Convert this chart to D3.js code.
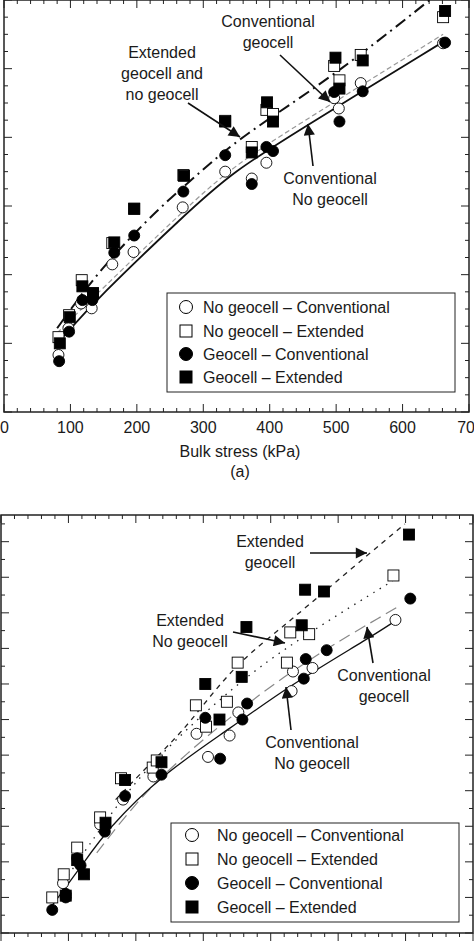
<!DOCTYPE html>
<html><head><meta charset="utf-8">
<script src="https://d3js.org/d3.v7.min.js"></script>
<style>body{margin:0;background:#fff}text{font-family:"Liberation Sans",Arial,sans-serif;fill:#1a1a1a}</style>
</head><body><svg id="c" width="474" height="944"></svg>
<script>
// ---------- Panel (a) data ----------
const xTicksA = [0,100,200,300,400,500,600,700];
const xTickLabelsA = ["0","100","200","300","400","500","600","70"];
const aNoGeoConvX = [82,97,116,132,163,195,269,333,373,395,497,504,537,661];
const aNoGeoConvY = [0.83,1.22,1.58,1.51,2.15,2.33,2.98,3.50,3.40,3.63,4.57,4.42,4.79,5.37];
const aGeoConvX = [83,98,118,133,166,196,270,333,373,395,405,497,505,540,664];
const aGeoConvY = [0.74,1.17,1.63,1.63,2.32,2.57,3.21,3.74,3.32,3.86,3.80,4.66,4.23,4.67,5.38];
const aNoGeoExtX = [82,98,117,134,163,196,270,333,373,395,405,497,505,537,661];
const aNoGeoExtY = [1.09,1.41,1.92,1.73,2.46,2.96,3.45,4.24,3.86,4.40,4.34,5.04,4.83,5.20,5.75];
const aGeoExtX = [84,99,118,134,166,196,271,333,373,396,405,499,505,540,664];
const aGeoExtY = [1.00,1.38,1.83,1.73,2.47,2.96,3.44,4.23,3.78,4.51,4.23,5.16,4.71,5.12,5.84];
const aCurveSolid = [[85,1.05],[143,1.68],[270,2.85],[344,3.5],[457,4.18],[661,5.39]];
const aCurveGray  = [[80,1.15],[143,1.75],[270,2.93],[344,3.58],[457,4.27],[661,5.5]];
const aCurveExt   = [[80,1.22],[143,2.07],[234,2.98],[294,3.48],[355,4.0],[495,4.88],[641,6.0]];

// ---------- Panel (b) data ----------
const bNoGeoConvX = [92,114,147,181,226,290,307,339,352,431,433,462,585];
const bNoGeoConvY = [2.8,4.0,6.1,7.5,8.8,11.2,9.9,11.1,12.4,13.6,14.7,14.9,17.6];
const bGeoConvX = [76,96,96,113,118,154,184,238,303,325,358,365,449,452,483,607];
const bGeoConvY = [1.3,2.0,2.2,4.2,3.8,5.7,7.7,8.9,12.1,9.8,12.0,12.9,14.3,15.4,15.9,18.8];
const bNoGeoExtX = [76,93,113,147,178,225,231,289,304,335,351,424,429,457,582];
const bNoGeoExtY = [2.0,3.3,4.8,6.5,8.7,9.3,9.7,12.8,11.6,13.0,15.2,15.2,16.9,16.8,20.1];
const bGeoExtX = [96,113,123,155,184,238,303,324,357,364,446,451,479,605];
const bGeoExtY = [2.1,4.1,3.3,6.2,8.6,9.6,14.0,12.0,14.4,17.2,17.3,19.3,19.2,22.4];
const bCurveSolid = [[73,1.4],[122,3.9],[157,5.8],[238,8.9],[344,11.6],[423,13.8],[551,16.7],[587,17.6]];
const bCurveGray  = [[142,4.5],[197,7.2],[261,9.7],[419,14.6],[587,18.3]];
const bCurveDot   = [[81,2.2],[128,4.8],[187,8.0],[256,10.8],[344,13.8],[423,16.1],[581,19.8]];
const bCurveDash  = [[170,7.5],[236,10.1],[276,11.6],[344,15.0],[418,17.2],[492,19.6],[599,23.0]];

const legendLabels = ["No geocell – Conventional","No geocell – Extended","Geocell – Conventional","Geocell – Extended"];

const svg = d3.select("#c");
const defs = svg.append("defs");
defs.append("marker").attr("id","ah").attr("viewBox","0 0 10 10").attr("refX",10).attr("refY",5)
  .attr("markerWidth",9).attr("markerHeight",7).attr("orient","auto").attr("markerUnits","strokeWidth")
  .append("path").attr("d","M0,0L10,5L0,10Z").attr("fill","#111");

function panel(cfg){
  const g = svg.append("g");
  const x = d3.scaleLinear().domain([0,700]).range(cfg.xr);
  const y = d3.scaleLinear().domain(cfg.yd).range(cfg.yr);
  const [x0,x1]=cfg.xr, [yb,yt]=cfg.yr;
  const cid = "clip"+cfg.id;
  defs.append("clipPath").attr("id",cid).append("rect").attr("x",x0).attr("y",yt).attr("width",x1-x0).attr("height",yb-yt);
  const xt = d3.range(0,701,20);
  xt.forEach(v=>{
    const L = v%100===0?8:4;
    g.append("line").attr("x1",x(v)).attr("x2",x(v)).attr("y1",yt).attr("y2",yt+L).attr("stroke","#222");
    if(cfg.bottomOut) g.append("line").attr("x1",x(v)).attr("x2",x(v)).attr("y1",yb).attr("y2",yb+L).attr("stroke","#222");
    else g.append("line").attr("x1",x(v)).attr("x2",x(v)).attr("y1",yb).attr("y2",yb-L).attr("stroke","#222");
  });
  cfg.yticks.forEach((v,i)=>{
    const L = i%cfg.yMajEvery===0?8:4;
    g.append("line").attr("x1",x0).attr("x2",x0+L).attr("y1",y(v)).attr("y2",y(v)).attr("stroke","#222");
    g.append("line").attr("x1",x1).attr("x2",x1-L).attr("y1",y(v)).attr("y2",y(v)).attr("stroke","#222");
  });
  g.append("rect").attr("x",x0).attr("y",yt).attr("width",x1-x0).attr("height",yb-yt)
    .attr("fill","none").attr("stroke","#222").attr("stroke-width",1.5);
  const line = d3.line().x(d=>x(d[0])).y(d=>y(d[1])).curve(d3.curveBasis);
  const cg = g.append("g").attr("clip-path",`url(#${cid})`);
  cfg.curves.forEach(c=>{
    cg.append("path").attr("d",line(c.pts)).attr("fill","none").attr("stroke",c.color)
      .attr("stroke-width",c.w).attr("stroke-dasharray",c.dash||null);
  });
  const r=cfg.ms;
  function sym(xs,ys,type){
    xs.forEach((xv,i)=>{
      const px=x(xv), py=y(ys[i]);
      if(type==="oc"||type==="fc") g.append("circle").attr("cx",px).attr("cy",py).attr("r",r)
        .attr("fill",type==="fc"?"#000":"#fff").attr("stroke","#000").attr("stroke-width",0.9);
      else g.append("rect").attr("x",px-r).attr("y",py-r).attr("width",2*r).attr("height",2*r)
        .attr("fill",type==="fs"?"#000":"#fff").attr("stroke","#000").attr("stroke-width",0.9);
    });
  }
  sym(cfg.d[0][0],cfg.d[0][1],"oc");
  sym(cfg.d[1][0],cfg.d[1][1],"os");
  sym(cfg.d[2][0],cfg.d[2][1],"fs");
  sym(cfg.d[3][0],cfg.d[3][1],"fc");
  cfg.notes.forEach(n=>{
    n.lines.forEach((t,i)=>g.append("text").attr("x",n.tx).attr("y",n.ty+i*21).attr("text-anchor","middle")
      .attr("font-size",16).text(t));
    g.append("line").attr("x1",n.a[0]).attr("y1",n.a[1]).attr("x2",n.a[2]).attr("y2",n.a[3])
      .attr("stroke","#111").attr("stroke-width",1.6).attr("marker-end","url(#ah)");
  });
  const lg=cfg.leg;
  g.append("rect").attr("x",lg.x0).attr("y",lg.y0).attr("width",lg.x1-lg.x0).attr("height",lg.y1-lg.y0)
    .attr("fill","#fff").attr("stroke","#222").attr("stroke-width",1);
  const types=["oc","os","fc","fs"];
  legendLabels.forEach((t,i)=>{
    const py=lg.ys[i], px=lg.sx, rr=6.5;
    const ty=types[i];
    if(ty[1]==="c") g.append("circle").attr("cx",px).attr("cy",py).attr("r",rr).attr("fill",ty[0]==="f"?"#000":"#fff").attr("stroke","#000");
    else g.append("rect").attr("x",px-rr+0.5).attr("y",py-rr+0.5).attr("width",2*rr-1).attr("height",2*rr-1).attr("fill",ty[0]==="f"?"#000":"#fff").attr("stroke","#000");
    g.append("text").attr("x",lg.tx).attr("y",py+6).attr("font-size",16).text(t);
  });
  return {x,y,g};
}

const A = panel({id:"a",xr:[4,469],yr:[412,0],yd:[0,6],yticks:d3.range(0,6.01,0.25),yMajEvery:4,ms:5.5,
  d:[[aNoGeoConvX,aNoGeoConvY],[aNoGeoExtX,aNoGeoExtY],[aGeoExtX,aGeoExtY],[aGeoConvX,aGeoConvY]],
  curves:[{pts:aCurveGray,color:"#999",w:1.2,dash:"5,3"},{pts:aCurveSolid,color:"#111",w:1.8},
          {pts:aCurveExt,color:"#111",w:2,dash:"12,5,2,5"}],
  notes:[{lines:["Conventional","geocell"],tx:268,ty:27,a:[280,55,330,102]},
         {lines:["Extended","geocell and","no geocell"],tx:162,ty:58,a:[188,103,240,137]},
         {lines:["Conventional","No geocell"],tx:330,ty:184,a:[313,166,308,124]}],
  leg:{x0:167,y0:293,x1:455,y1:392,ys:[307,331,354,377],sx:186,tx:203}});
A.g.selectAll(null).data(xTicksA).enter().append("text").attr("x",(d)=>A.x(d)).attr("y",433)
  .attr("text-anchor",(d,i)=>i===0?"start":(i===7?"end":"middle")).attr("dx",(d,i)=>i===0?-4:(i===7?6:0))
  .attr("font-size",16).text((d,i)=>xTickLabelsA[i]);
A.g.append("text").attr("x",240).attr("y",457).attr("text-anchor","middle").attr("font-size",16).text("Bulk stress (kPa)");
A.g.append("text").attr("x",240).attr("y",477).attr("text-anchor","middle").attr("font-size",16).text("(a)");

panel({id:"b",xr:[1,473],yr:[933,515],yd:[0,23.5],yticks:d3.range(0,23.51,1),yMajEvery:2,ms:5.5,bottomOut:true,
  d:[[bNoGeoConvX,bNoGeoConvY],[bNoGeoExtX,bNoGeoExtY],[bGeoExtX,bGeoExtY],[bGeoConvX,bGeoConvY]],
  curves:[{pts:bCurveGray,color:"#888",w:1.2,dash:"12,6"},{pts:bCurveSolid,color:"#111",w:1.3},
          {pts:bCurveDot,color:"#222",w:1.3,dash:"1.5,6"},{pts:bCurveDash,color:"#222",w:1.3,dash:"5,5"}],
  notes:[{lines:["Extended","geocell"],tx:270,ty:547,a:[310,553,367,553]},
         {lines:["Extended","No geocell"],tx:190,ty:626,a:[233,632,285,643]},
         {lines:["Conventional","geocell"],tx:384,ty:681,a:[373,663,367,627]},
         {lines:["Conventional","No geocell"],tx:312,ty:748,a:[291,730,286,687]}],
  leg:{x0:171,y0:823,x1:459,y1:922,ys:[835,859,883,907],sx:192,tx:217}});
</script></body></html>
